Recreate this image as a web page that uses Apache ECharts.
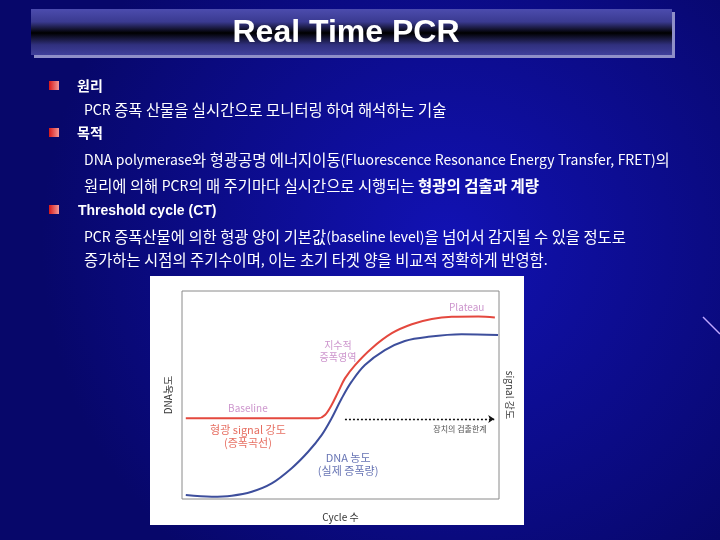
<!DOCTYPE html>
<html>
<head>
<meta charset="utf-8">
<script src="https://cdn.jsdelivr.net/npm/echarts@6/dist/echarts.min.js"></script>
<style>html,body{margin:0;padding:0;}#c{width:720px;height:540px;}</style>
</head>
<body>
<div id="c"></div>
<script>
// Fluorescence signal curve (red)
const redX = [1.2, 20, 43.0, 45.1, 47.2, 49.3, 51.4, 54.6, 59.8, 66.2, 72.5, 78.8, 85.1, 93.5, 98.7];
const redY = [38.8, 38.8, 38.8, 40.4, 45.2, 51.6, 58.0, 64.4, 72.4, 79.7, 84.0, 86.5, 87.6, 87.8, 87.3];
// DNA concentration curve (blue)
const blueX = [1.2, 9.4, 15.7, 22.0, 28.3, 34.6, 39.8, 44.1, 47.2, 50.4, 53.5, 57.7, 64.0, 70.3, 77.7, 88.2, 99.7];
const blueY = [1.9, 1.1, 1.6, 3.5, 7.5, 14.8, 22.7, 30.8, 38.8, 48.4, 56.4, 64.4, 71.6, 76.0, 78.0, 79.2, 78.8];
// detection limit arrow
const limitStart = [51.4, 38.5];
const limitEnd = [98.5, 38.5];
// annotations
const annotTexts = ['Plateau', '지수적\n증폭영역', 'Baseline', '형광 signal 강도\n(증폭곡선)', 'DNA 농도\n(실제 증폭량)', '장치의 검출한계'];
const annotX = [89.8, 49.2, 20.8, 20.8, 52.4, 87.7];
const annotY = [92.2, 71.2, 43.8, 30.0, 16.8, 33.7];
const annotColors = ['#c07cc0', '#c07cc0', '#c07cc0', '#e04a3a', '#4050a0', '#222222'];
const annotSizes = [10, 10, 10, 11, 11, 8];

const slideTitle = 'Real Time PCR';
const cjk = "'Noto Sans CJK KR', sans-serif";
const latin = "'Liberation Sans', Arial, sans-serif";

const chart = echarts.init(document.getElementById('c'), null, {renderer: 'canvas'});

function bullet(y) {
  return {type: 'rect', z: 1, shape: {x: 49, y: y, width: 10, height: 9},
    style: {fill: new echarts.graphic.LinearGradient(0, 0, 1, 0, [{offset: 0, color: '#d81818'}, {offset: 1, color: '#f39a9a'}])}};
}
// split text into Hangul runs (style k) and other runs (style l)
function richify(s, bold) {
  const parts = s.match(/[\uAC00-\uD7A3\u3131-\u318E ]+|[^\uAC00-\uD7A3\u3131-\u318E ]+/g) || [];
  return parts.map(p => {
    const isK = /[\uAC00-\uD7A3\u3131-\u318E]/.test(p) || /^ +$/.test(p);
    return '{' + (isK ? (bold ? 'kb' : 'k') : 'l') + '|' + p + '}';
  }).join('');
}
const richStyles = {
  k: {fill: '#ffffff', fontSize: 15.4, fontFamily: cjk},
  kb: {fill: '#ffffff', fontSize: 15.5, fontFamily: cjk, fontWeight: 'bold'},
  l: {fill: '#ffffff', fontSize: 14, fontFamily: cjk}
};
function line(x, y, segs) {
  return {type: 'text', z: 1, x: x, y: y,
    style: {text: segs.map(s => richify(s[0], s[1])).join(''), verticalAlign: 'middle', rich: richStyles}};
}

const option = {
  animation: false,
  backgroundColor: new echarts.graphic.RadialGradient(0.62, 0.45, 0.75, [
    {offset: 0, color: '#1212b4'}, {offset: 1, color: '#07076a'}]),
  graphic: [
    // title bar shadow and bar
    {type: 'rect', z: 0, shape: {x: 34, y: 12, width: 641, height: 46}, style: {fill: '#8f8fc8'}},
    {type: 'rect', z: 1, shape: {x: 31, y: 9, width: 641, height: 46},
      style: {fill: new echarts.graphic.LinearGradient(0, 0, 0, 1, [
        {offset: 0, color: '#4c4cae'}, {offset: 0.28, color: '#3a3a90'}, {offset: 0.52, color: '#000000'},
        {offset: 0.78, color: '#30307e'}, {offset: 1, color: '#40409c'}])}},
    {type: 'text', z: 2, x: 346, y: 33, style: {text: slideTitle, fill: '#ffffff', font: 'bold 32px ' + latin, align: 'center', verticalAlign: 'middle'}},
    bullet(81), bullet(128), bullet(205),
    {type: 'text', z: 1, x: 77, y: 86, style: {text: '원리', fill: '#ffffff', font: 'bold 14px ' + cjk, verticalAlign: 'middle'}},
    line(84, 110, [['PCR 증폭 산물을 실시간으로 모니터링 하여 해석하는 기술']]),
    {type: 'text', z: 1, x: 77, y: 133, style: {text: '목적', fill: '#ffffff', font: 'bold 14px ' + cjk, verticalAlign: 'middle'}},
    line(84, 160, [['DNA polymerase와 형광공명 에너지이동(Fluorescence Resonance Energy Transfer, FRET)의']]),
    line(84, 186, [['원리에 의해 PCR의 매 주기마다 실시간으로 시행되는 '], ['형광의 검출과 계량', true]]),
    {type: 'text', z: 1, x: 78, y: 211, style: {text: 'Threshold cycle (CT)', fill: '#ffffff', font: 'bold 14px ' + latin, verticalAlign: 'middle'}},
    line(84, 237, [['PCR 증폭산물에 의한 형광 양이 기본값(baseline level)을 넘어서 감지될 수 있을 정도로']]),
    line(84, 260, [['증가하는 시점의 주기수이며, 이는 초기 타겟 양을 비교적 정확하게 반영함.']]),
    {type: 'line', z: 1, shape: {x1: 703, y1: 317, x2: 720, y2: 334}, style: {stroke: '#c0a8ff', lineWidth: 1.5}},
    // white picture box
    {type: 'rect', z: -5, shape: {x: 150, y: 276, width: 374, height: 249}, style: {fill: '#ffffff'}}
  ],
  grid: {left: 182, top: 291, width: 317, height: 208, show: true, borderColor: '#8a8a8a', borderWidth: 1, backgroundColor: '#ffffff'},
  xAxis: {type: 'value', min: 0, max: 100, axisLine: {show: false}, axisTick: {show: false}, axisLabel: {show: false}, splitLine: {show: false},
    name: 'Cycle 수', nameLocation: 'middle', nameGap: 13, nameTextStyle: {color: '#333', fontSize: 10, fontFamily: cjk}},
  yAxis: [
    {type: 'value', min: 0, max: 100, axisLine: {show: false}, axisTick: {show: false}, axisLabel: {show: false}, splitLine: {show: false},
      name: 'DNA농도', nameLocation: 'middle', nameGap: 9, nameRotate: 90, nameTextStyle: {color: '#333', fontSize: 10, fontFamily: cjk}},
    {type: 'value', min: 0, max: 100, position: 'right', axisLine: {show: false}, axisTick: {show: false}, axisLabel: {show: false}, splitLine: {show: false},
      name: 'signal 강도', nameLocation: 'middle', nameGap: 6, nameRotate: -90, nameTextStyle: {color: '#333', fontSize: 10, fontFamily: cjk}}
  ],
  series: [
    {type: 'line', name: 'signal', data: redX.map((x, i) => [x, redY[i]]), smooth: 0.35, showSymbol: false,
      lineStyle: {color: '#e4483e', width: 2},
      markLine: {silent: true, symbol: ['none', 'arrow'], symbolSize: 6, label: {show: false},
        lineStyle: {color: '#111', type: [2, 2], width: 1.3},
        data: [[{coord: limitStart}, {coord: limitEnd}]]}},
    {type: 'line', name: 'DNA', data: blueX.map((x, i) => [x, blueY[i]]), smooth: 0.35, showSymbol: false,
      lineStyle: {color: '#3d4e9c', width: 2}},
    {type: 'scatter', symbolSize: 0, silent: true,
      data: annotTexts.map((t, i) => ({value: [annotX[i], annotY[i]],
        label: {show: true, position: 'inside', formatter: t, color: annotColors[i], fontSize: annotSizes[i], fontFamily: cjk, lineHeight: annotSizes[i] + 2}}))}
  ]
};
chart.setOption(option);
</script>
</body>
</html>
